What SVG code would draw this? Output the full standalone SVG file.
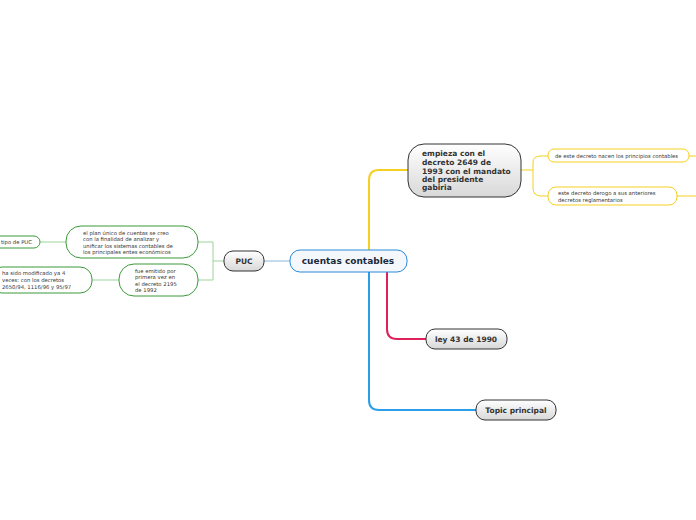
<svg xmlns="http://www.w3.org/2000/svg" width="696" height="520" viewBox="0 0 696 520">
<defs><linearGradient id="g" x1="0" y1="0" x2="0" y2="1"><stop offset="0" stop-color="#fff"/><stop offset="1" stop-color="#d8d8d8"/></linearGradient></defs>
<style>
text{font-family:"DejaVu Sans",sans-serif;fill:#333}
.s{font-size:5.3px}
.b{font-size:7.5px;font-weight:bold}
.c{fill:none;stroke-width:1}
</style>
<rect width="696" height="520" fill="#fff"/>
<g id="connectors" class="c">
<path d="M290 261H264" stroke="#8ab8d8"/>
<path d="M224 261H213M213 242V280M198 242H213M198 280H213" stroke="#9fd39f"/>
<path d="M66 242H40M119 280H92" stroke="#9fd39f"/>
<path d="M369 250V180Q369 170 379 170H408" stroke="#f5d020" stroke-width="2"/>
<path d="M387 272V329Q387 339 397 339H426" stroke="#e0205a" stroke-width="2"/>
<path d="M369 272V400Q369 410 379 410H476" stroke="#2a9ee8" stroke-width="2"/>
<path d="M521 170H533M533 162V188Q533 196 541 196H548M533 162Q533 156 541 156H548" stroke="#f5d020"/>
<path d="M689 156H696M677 196H696" stroke="#f5d020"/>
</g>
<g id="root"><rect x="290" y="250" width="117" height="22" rx="10" fill="#f4f8fc" stroke="#2a8ad8"/><text x="348" y="264" text-anchor="middle" font-size="9" font-weight="bold" style="fill:#1a2a3a">cuentas contables</text></g>
<g id="puc"><rect x="224" y="251" width="40" height="20" rx="9" fill="url(#g)" stroke="#333"/><text x="244" y="264" text-anchor="middle" class="b">PUC</text></g>
<g id="plan"><rect x="66" y="226" width="132" height="32" rx="15" fill="#fff" stroke="#3a9a3a"/><text class="s"><tspan x="83" y="235">el plan único de cuentas  se creo</tspan><tspan x="83" y="241">con la finalidad  de analizar y</tspan><tspan x="83" y="248">unificar los sistemas contables de</tspan><tspan x="83" y="254">los principales entes económicos</tspan></text></g>
<g id="tipo"><rect x="-10" y="236" width="50" height="12" rx="6" fill="#fff" stroke="#3a9a3a"/><text x="1" y="244" class="s">tipo de PUC</text></g>
<g id="emitido"><rect x="119" y="264" width="79" height="32" rx="15" fill="#fff" stroke="#3a9a3a"/><text class="s"><tspan x="135" y="273">fue emitido por</tspan><tspan x="135" y="279">primera vez en</tspan><tspan x="135" y="286">el decreto 2195</tspan><tspan x="135" y="292">de 1992</tspan></text></g>
<g id="modif"><rect x="-10" y="267" width="102" height="26" rx="12" fill="#fff" stroke="#3a9a3a"/><text class="s"><tspan x="2" y="275">ha sido modificado ya 4</tspan><tspan x="2" y="282">veces: con los decretos</tspan><tspan x="2" y="289">2650/94, 1116/96 y 95/97</tspan></text></g>
<g id="empieza"><rect x="408" y="144" width="113" height="53" rx="16" fill="url(#g)" stroke="#333"/><text class="b"><tspan x="422" y="156">empieza con el</tspan><tspan x="422" y="165">decreto 2649 de</tspan><tspan x="422" y="174">1993 con el mandato</tspan><tspan x="422" y="182">del presidente</tspan><tspan x="422" y="190">gabiria</tspan></text></g>
<g id="principios"><rect x="548" y="149" width="141" height="13" rx="6" fill="#fff" stroke="#f5d020"/><text x="555" y="158" class="s">de este decreto nacen los principios contables</text></g>
<g id="derogo"><rect x="548" y="187" width="129" height="18" rx="8" fill="#fff" stroke="#f5d020"/><text class="s"><tspan x="558" y="195">este decreto derogo a sus anteriores</tspan><tspan x="558" y="202">decretos reglamentarios</tspan></text></g>
<g id="ley"><rect x="426" y="329" width="81" height="20" rx="9" fill="url(#g)" stroke="#333"/><text x="466" y="342" text-anchor="middle" class="b">ley 43 de 1990</text></g>
<g id="topic"><rect x="476" y="400" width="80" height="20" rx="9" fill="url(#g)" stroke="#333"/><text x="516" y="413" text-anchor="middle" class="b">Topic principal</text></g>
</svg>
